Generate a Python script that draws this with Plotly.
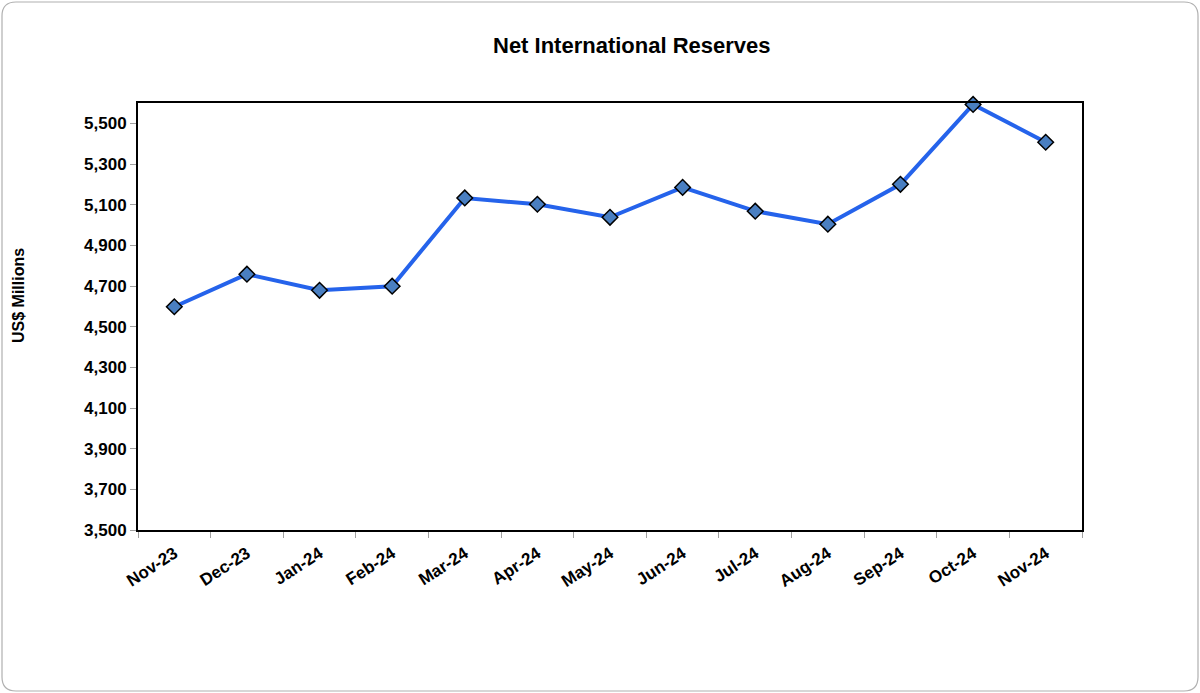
import plotly.graph_objects as go

months = ["Nov-23", "Dec-23", "Jan-24", "Feb-24", "Mar-24", "Apr-24", "May-24",
          "Jun-24", "Jul-24", "Aug-24", "Sep-24", "Oct-24", "Nov-24"]
reserves = [4598, 4758, 4679, 4699, 5133, 5102, 5038, 5185, 5068, 5004, 5200, 5593, 5407]
y_ticks = [3500, 3700, 3900, 4100, 4300, 4500, 4700, 4900, 5100, 5300, 5500]
y_tick_text = [f"{v:,}" for v in y_ticks]

W, H = 1200, 693
L, R, T, B = 138, 118, 103, 163
pw, ph = W - L - R, H - T - B
FONT = "Liberation Sans, Arial, sans-serif"

def px(x):
    return (x - L) / pw

def py(y):
    return 1 - (y - T) / ph

fig = go.Figure()
fig.add_trace(go.Scatter(
    x=months, y=reserves, mode="lines+markers",
    line=dict(color="#2563EB", width=4),
    marker=dict(symbol="diamond", size=12, color="#4A7FC1",
                line=dict(color="black", width=1.5)),
    showlegend=False, cliponaxis=False,
))

# rounded outer border
x0, x1, y0, y1, r = 2, 1198, 2, 691, 14
path = (f"M {px(x0 + r)} {py(y0)} L {px(x1 - r)} {py(y0)} "
        f"Q {px(x1)} {py(y0)} {px(x1)} {py(y0 + r)} "
        f"L {px(x1)} {py(y1 - r)} Q {px(x1)} {py(y1)} {px(x1 - r)} {py(y1)} "
        f"L {px(x0 + r)} {py(y1)} Q {px(x0)} {py(y1)} {px(x0)} {py(y1 - r)} "
        f"L {px(x0)} {py(y0 + r)} Q {px(x0)} {py(y0)} {px(x0 + r)} {py(y0)} Z")
fig.add_shape(type="path", path=path, xref="paper", yref="paper",
              line=dict(color="#B0B0B0", width=1.2), layer="below")

fig.add_annotation(text="<b>Net International Reserves</b>", x=px(632), y=py(45),
                   xref="paper", yref="paper", showarrow=False,
                   xanchor="center", yanchor="middle",
                   font=dict(family=FONT, size=22, color="black"))
fig.add_annotation(text="<b>US$ Millions</b>", x=px(18), y=py(296),
                   xref="paper", yref="paper", showarrow=False, textangle=-90,
                   xanchor="center", yanchor="middle",
                   font=dict(family=FONT, size=16, color="black"))

fig.update_layout(
    width=W, height=H,
    margin=dict(l=L, r=R, t=T, b=B, autoexpand=False),
    paper_bgcolor="white", plot_bgcolor="white",
    font=dict(family=FONT, color="black"),
)
fig.update_xaxes(
    type="category", range=[-0.5, len(months) - 0.5], tickangle=-33, tickson="boundaries",
    ticks="outside", ticklen=6, tickcolor="#A0A0A0", tickwidth=1,
    ticklabelstandoff=5,
    showline=True, linecolor="black", linewidth=2, mirror=True,
    showgrid=False, tickfont=dict(size=17, family=FONT),
    tickprefix="<b>", ticksuffix="</b>",
)
fig.update_yaxes(
    range=[3500, 5600], tickvals=y_ticks, ticktext=[f"<b>{t}</b>" for t in y_tick_text],
    ticks="outside", ticklen=6, tickcolor="#A0A0A0", tickwidth=1,
    showline=True, linecolor="black", linewidth=2, mirror=True,
    showgrid=False, zeroline=False, tickfont=dict(size=17, family=FONT),
)

fig.write_html("out.html")
